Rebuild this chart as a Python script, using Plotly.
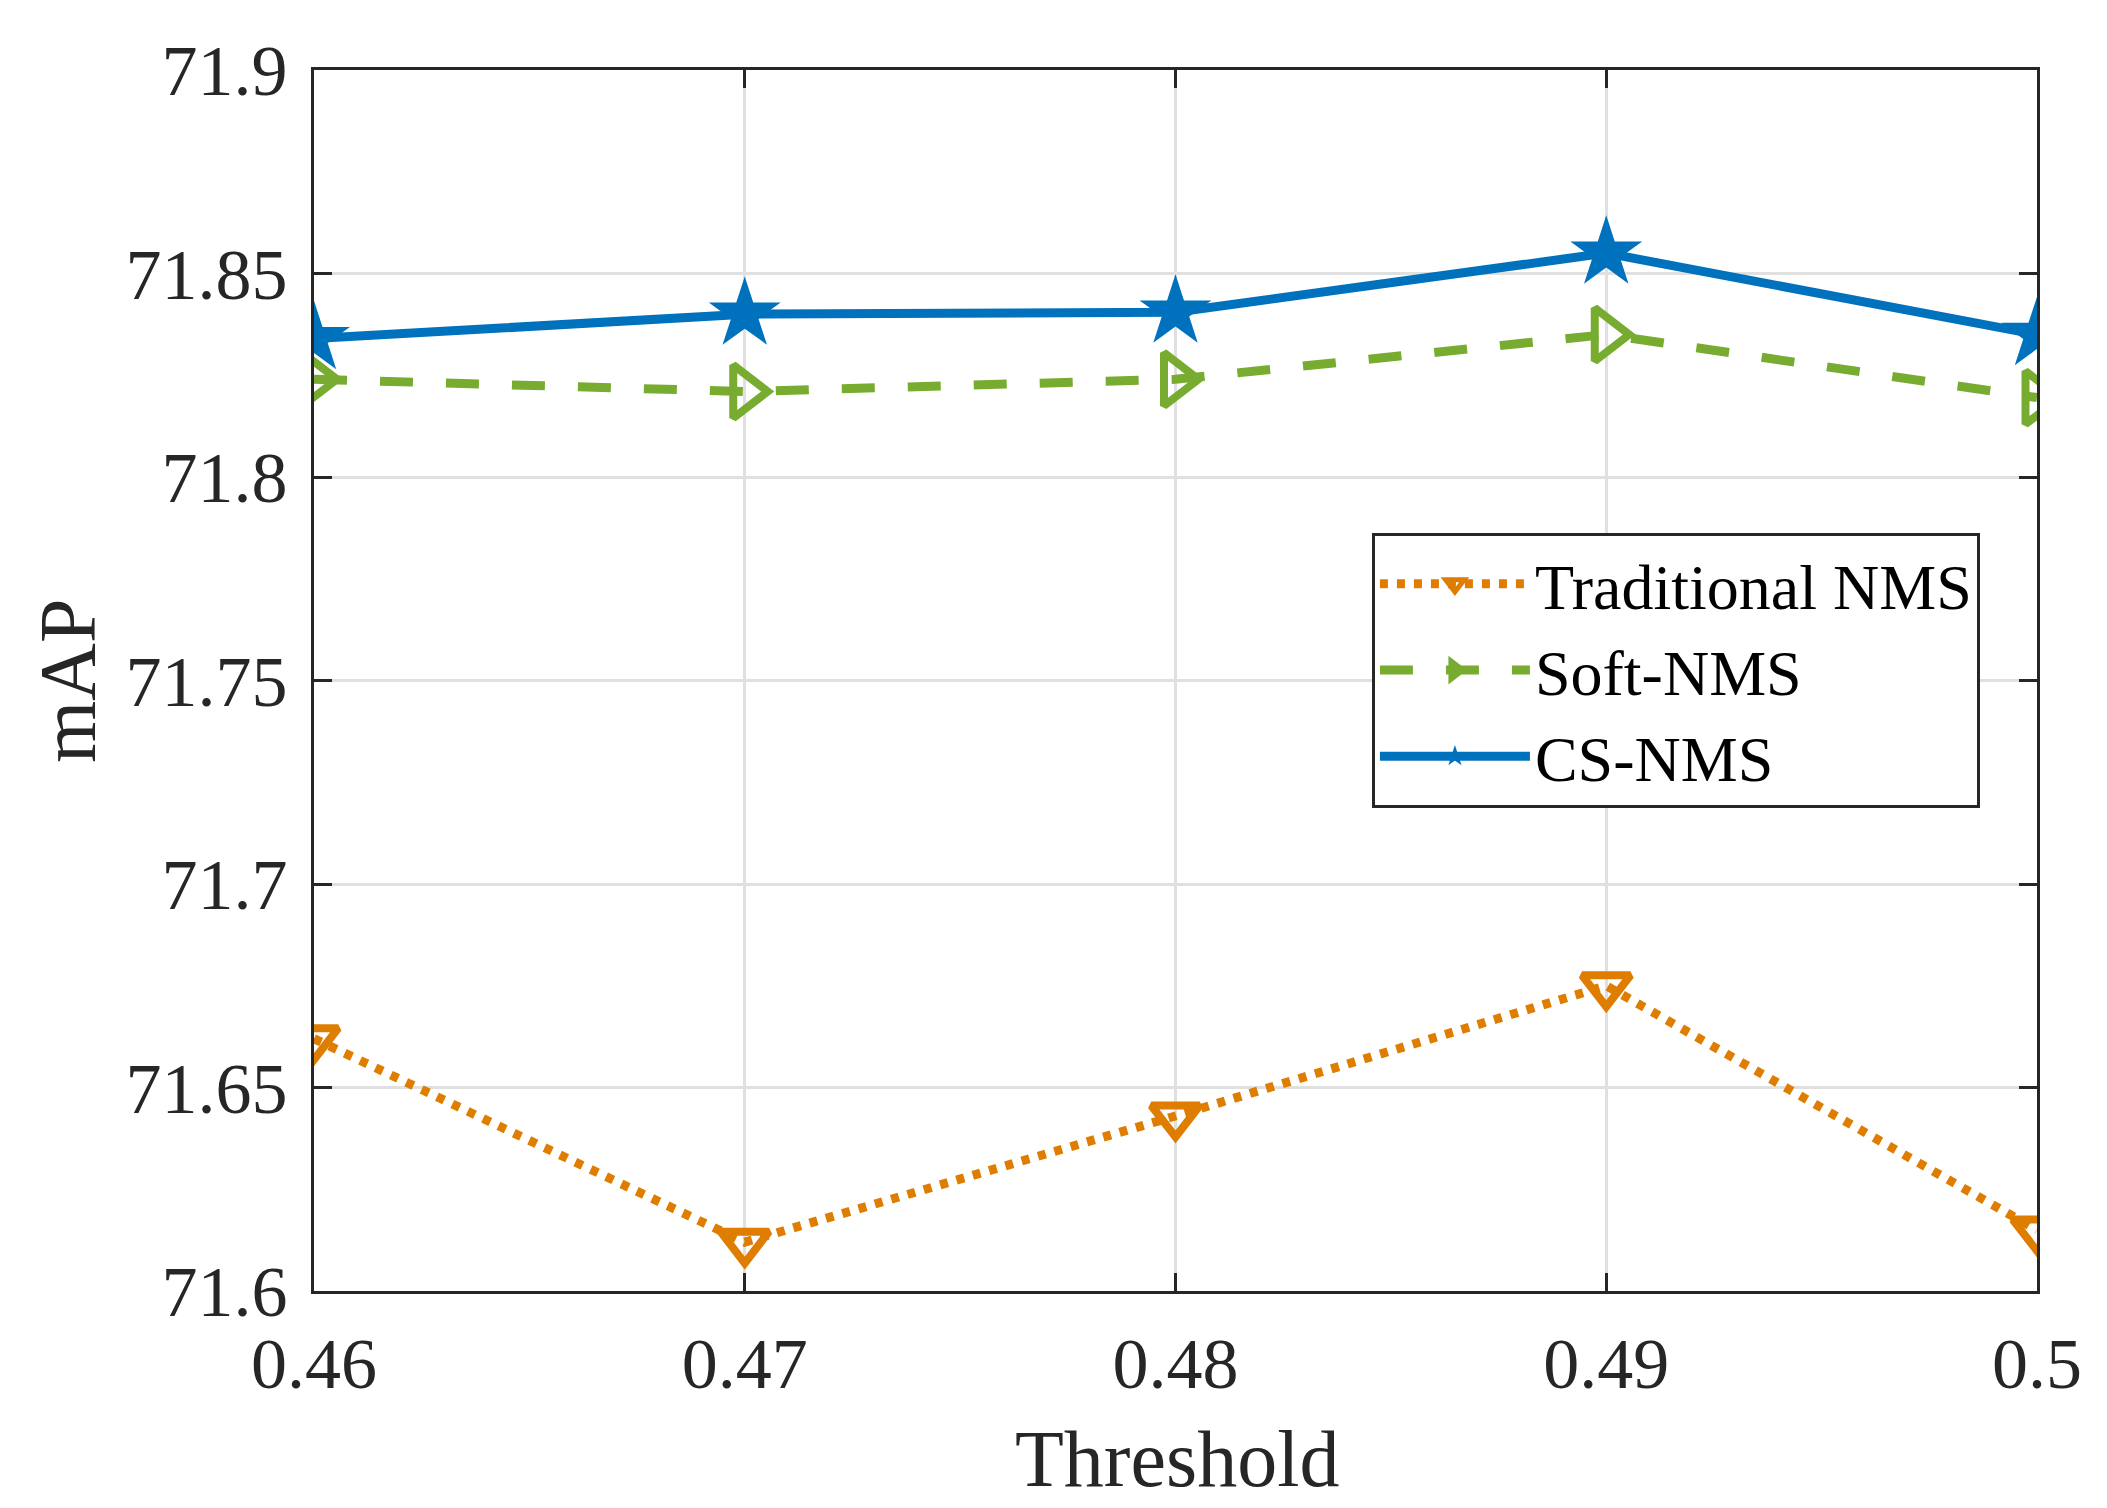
import plotly.graph_objects as go

# threshold sweep, mAP per NMS variant
thresholds = [0.46, 0.47, 0.48, 0.49, 0.50]
trad_nms = [71.662, 71.612, 71.643, 71.675, 71.615]
soft_nms = [71.824, 71.821, 71.824, 71.835, 71.8195]
cs_nms = [71.834, 71.840, 71.8405, 71.855, 71.835]

y_ticks = [71.6, 71.65, 71.7, 71.75, 71.8, 71.85, 71.9]
x_ticks = [0.46, 0.47, 0.48, 0.49, 0.5]
x_labels = ["0.46", "0.47", "0.48", "0.49", "0.5"]

ORANGE = "#DE7D00"
GREEN = "#77AC30"
BLUE = "#0072BD"
AX = "#262626"
FONT = "Liberation Serif"

fig = go.Figure()
fig.add_trace(go.Scatter(
    x=thresholds, y=trad_nms, mode="lines+markers", name="Traditional NMS",
    line=dict(color=ORANGE, width=9, dash="8px,9px"),
    marker=dict(symbol="triangle-down-open", size=42, color=ORANGE,
                line=dict(color=ORANGE, width=8))))
fig.add_trace(go.Scatter(
    x=thresholds, y=soft_nms, mode="lines+markers", name="Soft-NMS",
    line=dict(color=GREEN, width=9, dash="33px,33px"),
    marker=dict(symbol="triangle-right-open", size=46, color=GREEN,
                line=dict(color=GREEN, width=8))))
fig.add_trace(go.Scatter(
    x=thresholds, y=cs_nms, mode="lines+markers", name="CS-NMS",
    line=dict(color=BLUE, width=9),
    marker=dict(symbol="star", size=54, color=BLUE, line=dict(width=0))))

axis_common = dict(
    showline=True, linecolor=AX, linewidth=3, mirror="ticks",
    ticks="inside", ticklen=18, tickwidth=3, tickcolor=AX,
    showgrid=True, gridcolor="#E0E0E0", gridwidth=3,
    zeroline=False, automargin=False,
    tickfont=dict(family=FONT, size=72, color=AX),
)

fig.update_xaxes(range=[0.46, 0.5], tickvals=x_ticks, ticktext=x_labels,
                 ticklabelstandoff=8, **axis_common)
fig.update_yaxes(range=[71.6, 71.9], tickvals=y_ticks,
                 ticklabelstandoff=9, **axis_common)

fig.add_annotation(text="Threshold", xref="paper", yref="paper", x=0.501, y=-0.1,
                   xanchor="center", yanchor="top", showarrow=False,
                   font=dict(family=FONT, size=80, color=AX))
fig.add_annotation(text="mAP", xref="paper", yref="paper", x=-0.143, y=0.5,
                   xanchor="center", yanchor="middle", textangle=-90, showarrow=False,
                   font=dict(family=FONT, size=80, color=AX))

# page body adds an 8px offset, so the figure is shrunk by that much
fig.update_layout(
    width=2099, height=1500,
    margin=dict(l=306, r=70, t=62, b=217),
    paper_bgcolor="white", plot_bgcolor="white",
    font=dict(family=FONT, color=AX),
    legend=dict(x=0.614, y=0.621, xanchor="left", yanchor="top",
                bgcolor="white", bordercolor=AX, borderwidth=3,
                font=dict(family=FONT, size=64, color="black"),
                itemwidth=150, tracegroupgap=0),
)

fig.write_html("out.html")
